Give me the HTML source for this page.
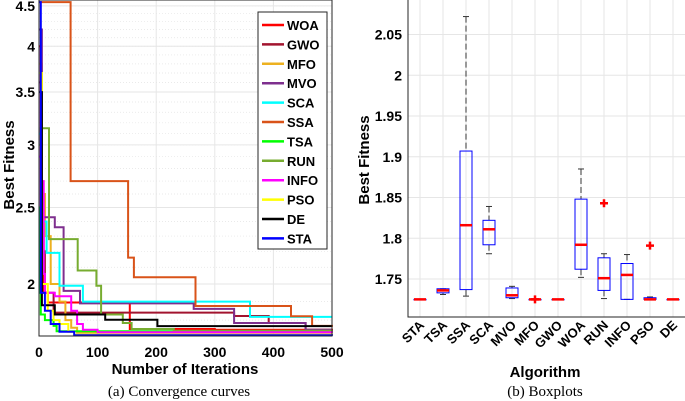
<!DOCTYPE html>
<html><head><meta charset="utf-8"><style>
html,body{margin:0;padding:0;background:#fff}
svg{display:block;font-family:"Liberation Sans",Arial,sans-serif}
</style></head><body>
<svg id="fig" width="685" height="401" viewBox="0 0 685 401">
<g id="left"></g>
<g id="right"></g>
</svg>
<script>
// ---- Convergence data (step points: [iteration, best fitness]) ----
const algNames = ["WOA","GWO","MFO","MVO","SCA","SSA","TSA","RUN","INFO","PSO","DE","STA"];
const algColors = ["#ff0000","#a2142f","#edb120","#7e2f8e","#00ffff","#d95319","#00ff00","#77ac30","#ff00ff","#ffff00","#000000","#0000ff"];
const sWOA = [[0,4.0],[3,2.3],[8,1.95],[15,1.895],[153,1.895],[155,1.754],[300,1.75],[500,1.745]];
const sGWO = [[0,3.6],[4,2.2],[10,1.95],[25,1.84],[331,1.84],[333,1.822],[390,1.822],[392,1.785],[452,1.785],[455,1.75],[500,1.75]];
const sMFO = [[0,3.8],[5,2.6],[10,2.3],[20,2.0],[35,1.9],[45,1.8],[55,1.76],[65,1.735],[500,1.733]];
const sMVO = [[0,4.2],[5,2.43],[25,2.43],[27,2.36],[38,2.36],[42,1.96],[68,1.96],[70,1.89],[262,1.89],[264,1.86],[330,1.86],[333,1.785],[452,1.785],[455,1.75],[500,1.75]];
const sSCA = [[0,3.1],[5,2.4],[13,2.19],[33,2.19],[35,1.99],[72,1.99],[75,1.9],[357,1.9],[360,1.817],[500,1.817]];
const sSSA = [[0,4.55],[53,4.55],[54,2.70],[150,2.70],[152,2.16],[160,2.16],[162,2.04],[265,2.04],[267,1.876],[428,1.876],[430,1.82],[464,1.82],[466,1.77],[500,1.765]];
const sTSA = [[0,2.5],[1,1.95],[3,1.83],[10,1.8],[25,1.77],[30,1.743],[500,1.74]];
const sRUN = [[0,3.0],[3,3.15],[15,3.15],[17,2.28],[64,2.28],[66,2.08],[96,2.08],[98,1.99],[104,1.99],[106,1.83],[140,1.83],[143,1.785],[155,1.785],[158,1.754],[230,1.745],[500,1.74]];
const sINFO = [[0,2.9],[5,2.7],[8,2.06],[10,1.95],[25,1.95],[27,1.93],[40,1.93],[55,1.85],[65,1.78],[75,1.75],[100,1.738],[500,1.735]];
const sPSO = [[0,3.7],[5,2.0],[15,1.85],[25,1.8],[35,1.78],[50,1.74],[60,1.724],[500,1.722]];
const sDE = [[0,3.5],[5,1.88],[25,1.88],[27,1.83],[111,1.83],[113,1.802],[200,1.802],[202,1.769],[500,1.769]];
const sSTA = [[0,4.55],[3,1.95],[10,1.85],[20,1.78],[35,1.74],[60,1.722],[500,1.72]];
const allSeries = [sWOA,sGWO,sMFO,sMVO,sSCA,sSSA,sTSA,sRUN,sINFO,sPSO,sDE,sSTA];
const xTicks = [0,100,200,300,400,500];
const yTicks = [2,2.5,3,3.5,4,4.5];

// ---- Boxplot data ----
const boxCats = ["STA","TSA","SSA","SCA","MVO","MFO","GWO","WOA","RUN","INFO","PSO","DE"];
const boxMin = [1.725,1.731,1.729,1.781,1.726,1.725,1.725,1.752,1.726,1.725,1.725,1.725];
const boxQ1  = [1.725,1.733,1.737,1.792,1.727,1.725,1.725,1.762,1.736,1.725,1.725,1.725];
const boxMed = [1.725,1.736,1.816,1.811,1.730,1.725,1.725,1.792,1.751,1.755,1.725,1.725];
const boxQ3  = [1.725,1.738,1.907,1.822,1.739,1.725,1.725,1.848,1.776,1.769,1.727,1.725];
const boxMax = [1.725,1.738,2.072,1.839,1.741,1.725,1.725,1.885,1.781,1.780,1.728,1.725];
const boxOutliers = [[],[],[],[],[],[1.725],[],[],[1.843],[],[1.791],[]];
const bTicks = [1.75,1.8,1.85,1.9,1.95,2,2.05];
const bTickLabels = ["1.75","1.8","1.85","1.9","1.95","2","2.05"];

const NS="http://www.w3.org/2000/svg";
function mk(parent,tag,attrs,text){const e=document.createElementNS(NS,tag);for(const k in attrs)e.setAttribute(k,attrs[k]);if(text!==undefined)e.textContent=text;parent.appendChild(e);return e;}

// ---- Left chart ----
const L=document.getElementById('left');
const lx0=39,lx1=332,ly0=0,ly1=336;
const xs=v=>lx0+(v/500)*(lx1-lx0);
const ys=v=>284-(Math.log(v)-Math.log(2))*343;
for(let v=1.8;v<=4.6;v+=0.1){const y=ys(v);if(y<ly0||y>ly1)continue;const g=mk(L,'line',{x1:lx0,x2:lx1,y1:y,y2:y,stroke:'#e4e4e4','stroke-width':0.7,'stroke-dasharray':'1,2'});
}
yTicks.forEach(v=>{const y=ys(v);const g=mk(L,'line',{x1:lx0,x2:lx1,y1:y,y2:y,stroke:'#e6e6e6','stroke-width':1});

const t=mk(L,'text',{x:lx0-4,y:y+5,'text-anchor':'end','font-size':14,'font-weight':'bold'},String(v));
});
xTicks.forEach(v=>{const x=xs(v);const g=mk(L,'line',{x1:x,x2:x,y1:ly0,y2:ly1,stroke:'#e6e6e6','stroke-width':1});

const t=mk(L,'text',{x:x,y:357,'text-anchor':'middle','font-size':14,'font-weight':'bold'},String(v));
});
allSeries.forEach((s,i)=>{let d='';s.forEach((p,j)=>{const x=xs(p[0]),y=Math.max(ly0,ys(p[1]));d+=(j?'L':'M')+x.toFixed(1)+','+y.toFixed(1);if(j<s.length-1){d+='L'+xs(s[j+1][0]).toFixed(1)+','+y.toFixed(1);}});
const p=mk(L,'path',{d:d,fill:'none',stroke:algColors[i],'stroke-width':2});
});
const lb=mk(L,'rect',{x:lx0,y:ly0,width:lx1-lx0,height:ly1-ly0,fill:'none',stroke:'#262626','stroke-width':1});

const lg=mk(L,'g',{});
mk(lg,'rect',{x:258,y:12,width:69,height:237,fill:'#fff',stroke:'#262626','stroke-width':1});
algNames.forEach((n,i)=>{const y=25+i*19.4;const e=mk(lg,'g',{});
mk(e,'line',{x1:262,x2:284,y1:y,y2:y,stroke:algColors[i],'stroke-width':2.5});
mk(e,'text',{x:287,y:y+5,'font-size':13,'font-weight':'bold'},n);});
let t=mk(L,'text',{x:185,y:374,'text-anchor':'middle','font-size':15,'font-weight':'bold'},'Number of Iterations');
t=mk(L,'text',{x:0,y:0,'text-anchor':'middle','font-size':15,'font-weight':'bold',transform:'translate(14,165) rotate(-90)'},'Best Fitness');
t=mk(L,'text',{x:179,y:396,'text-anchor':'middle','font-size':15,'font-family':'Liberation Serif, serif'},'(a)  Convergence curves');

// ---- Right chart ----
const R=document.getElementById('right');
const rx0=408,rx1=685,ry0=0,ry1=317;
const bx=i=>420+i*23;
const by=v=>279-(v-1.75)*815;
bTicks.forEach((v,i)=>{const y=by(v);const g=mk(R,'line',{x1:rx0,x2:rx1,y1:y,y2:y,stroke:'#e6e6e6','stroke-width':1});

const tt=mk(R,'text',{x:rx0-6,y:y+5,'text-anchor':'end','font-size':14,'font-weight':'bold'},bTickLabels[i]);
});
boxCats.forEach((c,i)=>{const x=bx(i);const g=mk(R,'line',{x1:x,x2:x,y1:ry0,y2:ry1,stroke:'#e6e6e6','stroke-width':1});

const tt=mk(R,'text',{x:0,y:0,'text-anchor':'end','font-size':13,'font-weight':'bold',transform:`translate(${x+5},${ry1+9}) rotate(-45)`},c);
});
boxCats.forEach((c,i)=>{const x=bx(i),w=12;const g=mk(R,'g',{});
mk(g,'line',{x1:x,x2:x,y1:by(boxMax[i]),y2:by(boxQ3[i]),stroke:'#333','stroke-width':1,'stroke-dasharray':'6,3'});
mk(g,'line',{x1:x,x2:x,y1:by(boxQ1[i]),y2:by(boxMin[i]),stroke:'#333','stroke-width':1,'stroke-dasharray':'6,3'});
mk(g,'line',{x1:x-3,x2:x+3,y1:by(boxMax[i]),y2:by(boxMax[i]),stroke:'#333','stroke-width':1});
mk(g,'line',{x1:x-3,x2:x+3,y1:by(boxMin[i]),y2:by(boxMin[i]),stroke:'#333','stroke-width':1});
mk(g,'rect',{x:x-w/2,y:by(boxQ3[i]),width:w,height:Math.max(0.5,by(boxQ1[i])-by(boxQ3[i])),fill:'none',stroke:'#0000ff','stroke-width':1});
mk(g,'line',{x1:x-w/2,x2:x+w/2,y1:by(boxMed[i]),y2:by(boxMed[i]),stroke:'#ff0000','stroke-width':2.5});
boxOutliers[i].forEach(o=>{const y=by(o);const p=mk(g,'path',{d:`M${x-4},${y}L${x+4},${y}M${x},${y-4}L${x},${y+4}`,stroke:'#ff0000','stroke-width':2.5});
});});
const rb=mk(R,'path',{d:`M${rx0},${ry0}L${rx0},${ry1}L${rx1},${ry1}`,fill:'none',stroke:'#262626','stroke-width':1});

t=mk(R,'text',{x:545,y:377,'text-anchor':'middle','font-size':15,'font-weight':'bold'},'Algorithm');
t=mk(R,'text',{x:0,y:0,'text-anchor':'middle','font-size':15,'font-weight':'bold',transform:'translate(369,160) rotate(-90)'},'Best Fitness');
t=mk(R,'text',{x:545,y:396,'text-anchor':'middle','font-size':15,'font-family':'Liberation Serif, serif'},'(b)  Boxplots');
</script>
</body></html>
